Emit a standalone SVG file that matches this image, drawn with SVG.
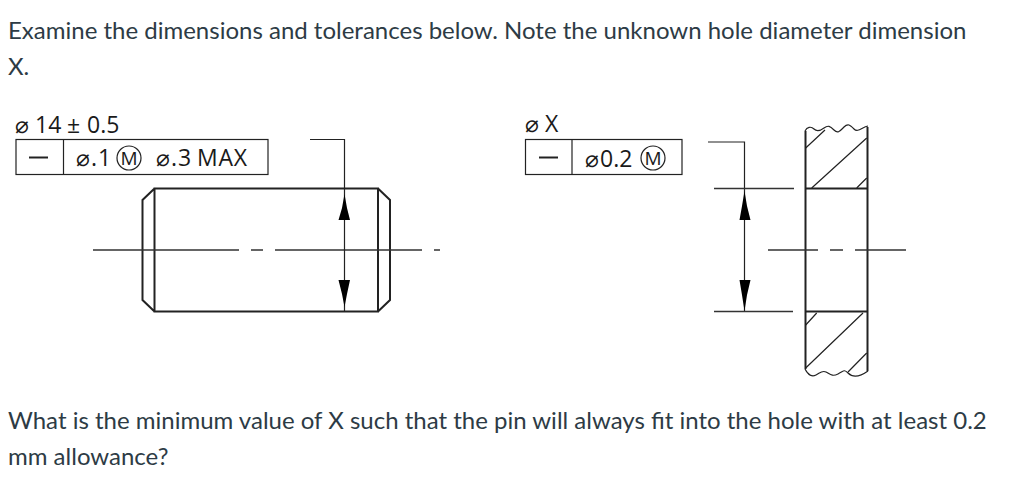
<svg xmlns="http://www.w3.org/2000/svg" width="1010" height="478" viewBox="0 0 1010 478">
<style>
.t{font-family:Lato,"Open Sans",sans-serif;font-size:24px;fill:#2d3b45}
.d{font-family:"Open Sans","Noto Sans",sans-serif;font-size:23px;fill:#1a1a1a}
.m{font-family:"Open Sans","Noto Sans",sans-serif;font-size:19px;fill:#1a1a1a;text-anchor:middle}
.thin{fill:none;stroke:#222;stroke-width:1.2}
.med{fill:none;stroke:#333;stroke-width:1.5}
.thick{fill:none;stroke:#222;stroke-width:2}
.arrow{fill:#000;stroke:none}
</style>
<rect width="1010" height="478" fill="#fff"/>
<g id="question-top">
<text class="t" x="8" y="39">Examine the dimensions and tolerances below. Note the unknown hole diameter dimension</text>
<text class="t" x="8" y="75">X.</text>
</g>
<g id="pin-callout">
<text class="d" x="15" y="132.500">⌀</text>
<text class="d" x="35" y="132.500">14</text>
<text class="d" x="67" y="132.500">±</text>
<text class="d" x="87" y="132.500">0.5</text>
<rect class="thin" x="16" y="139.500" width="252" height="35"/>
<path class="thin" d="M63.500 139.500V174.500"/>
<path class="thick" d="M29 157.500H48"/>
<text class="d" x="76" y="166">⌀</text>
<text class="d" x="91" y="166" letter-spacing="1">.1</text>
<circle class="thin" cx="129" cy="158" r="12"/>
<text class="m" x="129" y="165">M</text>
<text class="d" x="156" y="166">⌀</text>
<text class="d" x="171" y="166" letter-spacing="1">.3</text>
<text class="d" x="197" y="166" letter-spacing="0.8">MAX</text>
</g>
<g id="pin">
<path class="thick" d="M154.500 188.500H378V311.500H154.500ZM154.500 188.500L142.500 200V300L154.500 311.500M378 188.500L390 200V300L378 311.500"/>
<path class="med" d="M93 250H239M251 250H263M275 250H422M434 250H440"/>
</g>
<g id="hole-callout">
<text class="d" x="525" y="132">⌀</text>
<text class="d" x="545" y="132">X</text>
<rect class="thin" x="525.500" y="139.500" width="156.500" height="35"/>
<path class="thin" d="M572 139.500V174.500"/>
<path class="thick" d="M539 157.500H558"/>
<text class="d" x="585" y="167">⌀</text>
<text class="d" x="600" y="167">0.2</text>
<circle class="thin" cx="653" cy="158" r="12"/>
<text class="m" x="653" y="165">M</text>
</g>
<g id="plate">
<path class="thick" d="M805.500 131V369M867.500 127V371M805.500 188.500H867.500M805.500 311.500H867.500"/>
<path class="thin" d="M805 131C807 127 811 126 814 129S820 131 824 128 830 126 834 130 840 131 844 127 850 125 854 129 862 127 868 126"/>
<path class="thin" d="M805 369C808 375 812 377 816 375S822 370 826 372 832 377 838 374 844 369 848 373 858 378 868 371"/>
<path class="thin" d="M805.700 148L825 130M811.700 188L866.700 138M856.700 188L866.700 178M805.700 325L816.700 313M805.700 368L863 313M848 372L866.700 353"/>
<path class="med" d="M768 250H818M830 250H843M855 250H906"/>
</g>
<g id="connectors">
<path class="thin" d="M310 139.500H344.500V311"/>
<path class="arrow" d="M344.500 194L342 208L338.500 220H350L347 208ZM344.500 307L342 294L338.500 280H350L347 294Z"/>
<path class="thin" d="M708 142H744.500V311.500"/>
<path class="med" d="M714 188.500H794M714 311.500H793"/>
<path class="arrow" d="M744.500 191L742 206L739.500 220H750.500L747 206ZM744.500 311L742 295L739.500 280H750.500L747 295Z"/>
</g>
<g id="question-bottom">
<text class="t" x="8" y="429">What is the minimum value of X such that the pin will always fit into the hole with at least 0.2</text>
<text class="t" x="8" y="465">mm allowance?</text>
</g>
</svg>
